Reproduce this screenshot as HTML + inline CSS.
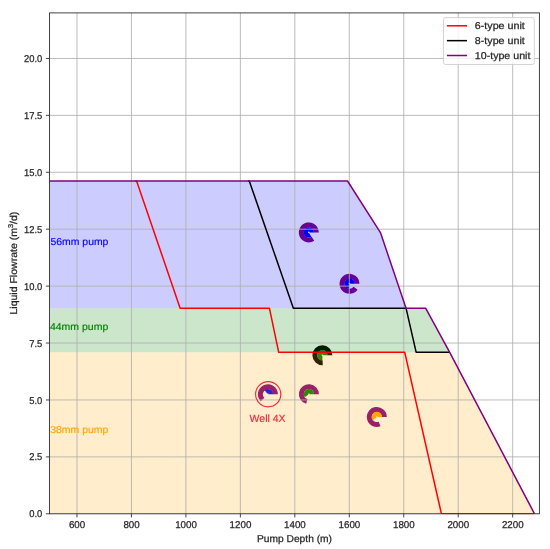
<!DOCTYPE html>
<html><head><meta charset="utf-8"><title>Pump chart</title>
<style>html,body{margin:0;padding:0;background:#fff}body{width:550px;height:549px;overflow:hidden}</style>
</head><body>
<svg width="550" height="549" viewBox="0 0 550 549" style="display:block;text-rendering:geometricPrecision;font-family:'Liberation Sans',sans-serif">
<rect width="550" height="549" fill="#fff"/>
<defs><clipPath id="ax"><rect x="49.50" y="12.90" width="489.90" height="500.90"/></clipPath></defs>
<g clip-path="url(#ax)">
<g>
<path d="M318.80,232.40 A10.00,10.00 0 1 0 314.25,240.79 L311.55,236.64 A5.05,5.05 0 1 1 313.85,232.40 Z" fill="#800080"/>
<path d="M308.80,232.40 L314.00,232.40 A5.20,5.20 0 1 0 311.40,236.90 Z" fill="#0000ff"/>
<circle cx="308.80" cy="232.40" r="0.8" fill="#fff"/>
<path d="M359.50,283.80 A10.00,10.00 0 1 0 357.59,289.68 L353.59,286.77 A5.05,5.05 0 1 1 354.55,283.80 Z" fill="#800080"/>
<path d="M349.50,283.80 L354.70,283.80 A5.20,5.20 0 1 0 348.78,288.95 Z" fill="#0000ff"/>
<circle cx="349.50" cy="283.80" r="0.8" fill="#fff"/>
<path d="M332.40,355.30 A10.00,10.00 0 1 0 322.75,365.29 L322.58,360.35 A5.05,5.05 0 1 1 327.45,355.30 Z" fill="#000000"/>
<path d="M322.40,355.30 L327.60,355.30 A5.20,5.20 0 1 0 322.40,360.50 Z" fill="#008000"/>
<circle cx="322.40" cy="355.30" r="0.8" fill="#fff"/>
<path d="M277.90,394.30 A10.00,10.00 0 1 0 260.83,401.37 L264.33,397.87 A5.05,5.05 0 1 1 272.95,394.30 Z" fill="#800080"/>
<path d="M267.90,394.30 L273.10,394.30 A5.20,5.20 0 0 0 264.56,390.32 Z" fill="#0000ff"/>
<circle cx="267.90" cy="394.30" r="0.8" fill="#fff"/>
<path d="M318.90,394.20 A10.00,10.00 0 1 0 306.14,403.81 L307.51,399.05 A5.05,5.05 0 1 1 313.95,394.20 Z" fill="#800080"/>
<path d="M308.90,394.20 L314.10,394.20 A5.20,5.20 0 1 0 304.75,397.33 Z" fill="#008000"/>
<circle cx="308.90" cy="394.20" r="0.8" fill="#fff"/>
<path d="M386.80,417.00 A10.00,10.00 0 1 0 380.55,426.27 L378.69,421.68 A5.05,5.05 0 1 1 381.85,417.00 Z" fill="#800080"/>
<path d="M376.80,417.00 L382.00,417.00 A5.20,5.20 0 1 0 372.65,420.13 Z" fill="#ffa500"/>
<circle cx="376.80" cy="417.00" r="0.8" fill="#fff"/>
</g>
<polygon points="49.50,308.15 49.50,181.00 347.52,181.00 380.45,232.61 406.04,308.15" fill="#0000ff" fill-opacity="0.2"/>
<polygon points="49.50,352.20 49.50,308.15 425.63,308.15 449.58,352.20" fill="#008000" fill-opacity="0.2"/>
<polygon points="49.50,513.80 49.50,352.20 449.58,352.20 534.50,513.80" fill="#ffa500" fill-opacity="0.2"/>
<g stroke="#b0b0b0" stroke-width="0.85" fill="none">
<line x1="76.98" y1="12.90" x2="76.98" y2="513.80"/>
<line x1="131.44" y1="12.90" x2="131.44" y2="513.80"/>
<line x1="185.91" y1="12.90" x2="185.91" y2="513.80"/>
<line x1="240.37" y1="12.90" x2="240.37" y2="513.80"/>
<line x1="294.83" y1="12.90" x2="294.83" y2="513.80"/>
<line x1="349.29" y1="12.90" x2="349.29" y2="513.80"/>
<line x1="403.75" y1="12.90" x2="403.75" y2="513.80"/>
<line x1="458.21" y1="12.90" x2="458.21" y2="513.80"/>
<line x1="512.68" y1="12.90" x2="512.68" y2="513.80"/>
<line x1="49.50" y1="513.80" x2="539.40" y2="513.80"/>
<line x1="49.50" y1="456.88" x2="539.40" y2="456.88"/>
<line x1="49.50" y1="399.96" x2="539.40" y2="399.96"/>
<line x1="49.50" y1="343.04" x2="539.40" y2="343.04"/>
<line x1="49.50" y1="286.12" x2="539.40" y2="286.12"/>
<line x1="49.50" y1="229.20" x2="539.40" y2="229.20"/>
<line x1="49.50" y1="172.28" x2="539.40" y2="172.28"/>
<line x1="49.50" y1="115.36" x2="539.40" y2="115.36"/>
<line x1="49.50" y1="58.44" x2="539.40" y2="58.44"/>
</g>
<polyline points="135.23,181.00 136.59,181.00 180.14,308.15 269.41,308.15 278.66,352.20 404.68,352.20 441.42,513.80 534.50,513.80" fill="none" stroke="#ff0000" stroke-width="1.50" stroke-linejoin="round"/>
<polyline points="247.91,181.00 249.27,181.00 293.36,308.15 406.04,308.15 416.11,352.20 449.04,352.20" fill="none" stroke="#000000" stroke-width="1.50" stroke-linejoin="round"/>
<polyline points="49.50,181.00 347.52,181.00 380.45,232.61 406.04,308.15 425.63,308.15 449.58,352.20 534.50,513.80" fill="none" stroke="#800080" stroke-width="1.50" stroke-linejoin="round"/>
</g>
<rect x="49.50" y="12.90" width="489.90" height="500.90" fill="none" stroke="#303030" stroke-width="0.9"/>
<line x1="441.42" y1="513.80" x2="534.50" y2="513.80" stroke="#c00000" stroke-opacity="0.45" stroke-width="1.1"/>
<g stroke="#303030" stroke-width="0.9">
<line x1="76.98" y1="513.80" x2="76.98" y2="517.40"/>
<line x1="131.44" y1="513.80" x2="131.44" y2="517.40"/>
<line x1="185.91" y1="513.80" x2="185.91" y2="517.40"/>
<line x1="240.37" y1="513.80" x2="240.37" y2="517.40"/>
<line x1="294.83" y1="513.80" x2="294.83" y2="517.40"/>
<line x1="349.29" y1="513.80" x2="349.29" y2="517.40"/>
<line x1="403.75" y1="513.80" x2="403.75" y2="517.40"/>
<line x1="458.21" y1="513.80" x2="458.21" y2="517.40"/>
<line x1="512.68" y1="513.80" x2="512.68" y2="517.40"/>
<line x1="45.90" y1="513.80" x2="49.50" y2="513.80"/>
<line x1="45.90" y1="456.88" x2="49.50" y2="456.88"/>
<line x1="45.90" y1="399.96" x2="49.50" y2="399.96"/>
<line x1="45.90" y1="343.04" x2="49.50" y2="343.04"/>
<line x1="45.90" y1="286.12" x2="49.50" y2="286.12"/>
<line x1="45.90" y1="229.20" x2="49.50" y2="229.20"/>
<line x1="45.90" y1="172.28" x2="49.50" y2="172.28"/>
<line x1="45.90" y1="115.36" x2="49.50" y2="115.36"/>
<line x1="45.90" y1="58.44" x2="49.50" y2="58.44"/>
</g>
<text transform="translate(77.08,527.90) scale(0.990,1)" font-size="9.90" text-anchor="middle" fill="#262626" stroke="#262626" stroke-width="0.25">600</text>
<text transform="translate(131.54,527.90) scale(0.990,1)" font-size="9.90" text-anchor="middle" fill="#262626" stroke="#262626" stroke-width="0.25">800</text>
<text transform="translate(186.00,527.90) scale(0.990,1)" font-size="9.90" text-anchor="middle" fill="#262626" stroke="#262626" stroke-width="0.25">1000</text>
<text transform="translate(240.47,527.90) scale(0.990,1)" font-size="9.90" text-anchor="middle" fill="#262626" stroke="#262626" stroke-width="0.25">1200</text>
<text transform="translate(294.93,527.90) scale(0.990,1)" font-size="9.90" text-anchor="middle" fill="#262626" stroke="#262626" stroke-width="0.25">1400</text>
<text transform="translate(349.39,527.90) scale(0.990,1)" font-size="9.90" text-anchor="middle" fill="#262626" stroke="#262626" stroke-width="0.25">1600</text>
<text transform="translate(403.85,527.90) scale(0.990,1)" font-size="9.90" text-anchor="middle" fill="#262626" stroke="#262626" stroke-width="0.25">1800</text>
<text transform="translate(458.31,527.90) scale(0.990,1)" font-size="9.90" text-anchor="middle" fill="#262626" stroke="#262626" stroke-width="0.25">2000</text>
<text transform="translate(512.78,527.90) scale(0.990,1)" font-size="9.90" text-anchor="middle" fill="#262626" stroke="#262626" stroke-width="0.25">2200</text>
<text transform="translate(42.30,517.35) scale(0.950,1)" font-size="9.90" text-anchor="end" fill="#262626" stroke="#262626" stroke-width="0.25">0.0</text>
<text transform="translate(42.30,460.43) scale(0.950,1)" font-size="9.90" text-anchor="end" fill="#262626" stroke="#262626" stroke-width="0.25">2.5</text>
<text transform="translate(42.30,403.51) scale(0.950,1)" font-size="9.90" text-anchor="end" fill="#262626" stroke="#262626" stroke-width="0.25">5.0</text>
<text transform="translate(42.30,346.59) scale(0.950,1)" font-size="9.90" text-anchor="end" fill="#262626" stroke="#262626" stroke-width="0.25">7.5</text>
<text transform="translate(42.30,289.67) scale(0.950,1)" font-size="9.90" text-anchor="end" fill="#262626" stroke="#262626" stroke-width="0.25">10.0</text>
<text transform="translate(42.30,232.75) scale(0.950,1)" font-size="9.90" text-anchor="end" fill="#262626" stroke="#262626" stroke-width="0.25">12.5</text>
<text transform="translate(42.30,175.83) scale(0.950,1)" font-size="9.90" text-anchor="end" fill="#262626" stroke="#262626" stroke-width="0.25">15.0</text>
<text transform="translate(42.30,118.91) scale(0.950,1)" font-size="9.90" text-anchor="end" fill="#262626" stroke="#262626" stroke-width="0.25">17.5</text>
<text transform="translate(42.30,61.99) scale(0.950,1)" font-size="9.90" text-anchor="end" fill="#262626" stroke="#262626" stroke-width="0.25">20.0</text>
<text transform="translate(294.50,541.80) scale(1.022,1)" font-size="10.00" text-anchor="middle" fill="#262626" stroke="#262626" stroke-width="0.25">Pump Depth (m)</text>
<text transform="translate(16.5,263.1) rotate(-90) scale(1.051,1)" font-size="10" text-anchor="middle" fill="#262626" stroke="#262626" stroke-width="0.25">Liquid Flowrate (m<tspan font-size="7" dy="-3.3">3</tspan><tspan dy="3.3">/d)</tspan></text>
<text transform="translate(50.50,244.60) scale(1.042,1)" font-size="10.00" text-anchor="start" fill="#0000ff" stroke="#0000ff" stroke-width="0.15">56mm pump</text>
<text transform="translate(49.90,330.30) scale(1.050,1)" font-size="10.00" text-anchor="start" fill="#008000" stroke="#008000" stroke-width="0.15">44mm pump</text>
<text transform="translate(50.20,432.90) scale(1.047,1)" font-size="10.00" text-anchor="start" fill="#ffa500" stroke="#ffa500" stroke-width="0.15">38mm pump</text>
<circle cx="268.2" cy="394.3" r="12.6" fill="none" stroke="#ee2a3c" stroke-width="1.15"/>
<text transform="translate(267.60,421.60) scale(1.000,1)" font-size="10.50" text-anchor="middle" fill="#ee2a3c" stroke="#ee2a3c" stroke-width="0.15">Well 4X</text>
<rect x="443.5" y="17.6" width="90.8" height="46.9" rx="2" ry="2" fill="#ffffff" fill-opacity="0.8" stroke="#cccccc" stroke-width="0.85"/>
<line x1="446.9" y1="25.80" x2="467" y2="25.80" stroke="#ff0000" stroke-width="1.50"/>
<text transform="translate(474.80,29.40) scale(1.071,1)" font-size="10.00" text-anchor="start" fill="#262626" stroke="#262626" stroke-width="0.25">6-type unit</text>
<line x1="446.9" y1="40.65" x2="467" y2="40.65" stroke="#000000" stroke-width="1.50"/>
<text transform="translate(474.80,44.25) scale(1.071,1)" font-size="10.00" text-anchor="start" fill="#262626" stroke="#262626" stroke-width="0.25">8-type unit</text>
<line x1="446.9" y1="55.50" x2="467" y2="55.50" stroke="#800080" stroke-width="1.50"/>
<text transform="translate(474.80,59.10) scale(1.064,1)" font-size="10.00" text-anchor="start" fill="#262626" stroke="#262626" stroke-width="0.25">10-type unit</text>
</svg>
</body></html>
